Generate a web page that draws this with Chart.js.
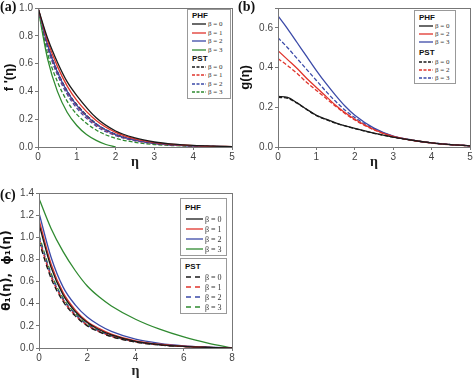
<!DOCTYPE html>
<html>
<head>
<meta charset="utf-8">
<script src="https://cdn.jsdelivr.net/npm/chart.js@4.4.0/dist/chart.umd.min.js"></script>
<style>
  body { margin: 0; background: #fff; }
  #wrap { position: relative; width: 474px; height: 381px; overflow: hidden; }
  .panel { position: absolute; }
  .tag { position: absolute; font: bold 14px 'Liberation Serif', serif; color: #111; }
  .leg { position: absolute; border: 1px solid #999; background: #fff; box-sizing: border-box; }
  .leg .hd { font: bold 8px 'Liberation Sans', sans-serif; color: #111; padding-left: 4px; display: flex; align-items: center; }
  .leg .row { display: flex; align-items: center; }
  .leg .row span { font: 7px 'Liberation Serif', serif; color: #333; margin-left: 2px; white-space: nowrap; }
</style>
</head>
<body>
<div id="wrap">
  <div class="panel" style="left:0;top:0"><canvas id="chartA" width="240" height="180"></canvas></div>
  <div class="panel" style="left:237px;top:0"><canvas id="chartB" width="237" height="180"></canvas></div>
  <div class="panel" style="left:0;top:185px"><canvas id="chartC" width="300" height="196"></canvas></div>
  <div class="tag" style="left:0;top:-1px">(a)</div>
  <div class="tag" style="left:238px;top:-1px">(b)</div>
  <div class="tag" style="left:0;top:187px">(c)</div>
</div>
<script>
// couleurs des courbes
const corPreto = '#1a1a1a';
const corVermelho = '#e0342c';
const corAzul = '#3b4aa8';
const corVerde = '#2f8a30';

// (a) f'(eta)
const etaA = [0, 0.25, 0.5, 0.75, 1, 1.5, 2, 2.5, 3, 3.5, 4, 4.5, 5];
const etaA3 = [0, 0.25, 0.5, 0.75, 1, 1.25, 1.5, 1.75, 2];
const fPhf0 = [1, 0.78, 0.61, 0.47, 0.37, 0.21, 0.115, 0.065, 0.036, 0.02, 0.011, 0.006, 0.003];
const fPhf1 = [1, 0.76, 0.58, 0.44, 0.335, 0.19, 0.105, 0.058, 0.032, 0.018, 0.01, 0.005, 0.003];
const fPhf2 = [1, 0.73, 0.54, 0.40, 0.30, 0.165, 0.09, 0.05, 0.028, 0.015, 0.008, 0.004, 0.002];
const fPhf3 = [1, 0.63, 0.40, 0.25, 0.155, 0.09, 0.048, 0.018, 0];
const fPst0 = [1, 0.735, 0.545, 0.405, 0.305, 0.168, 0.092, 0.051, 0.028, 0.015, 0.008, 0.004, 0.002];
const fPst1 = [1, 0.725, 0.535, 0.395, 0.295, 0.16, 0.088, 0.048, 0.026, 0.014, 0.008, 0.004, 0.002];
const fPst2 = [1, 0.71, 0.52, 0.38, 0.28, 0.15, 0.082, 0.045, 0.024, 0.013, 0.007, 0.004, 0.002];
const fPst3 = [1, 0.67, 0.47, 0.33, 0.235, 0.122, 0.063, 0.034, 0.018, 0.01, 0.005, 0.003, 0.001];

// (b) g(eta)
const etaB = [0, 0.25, 0.5, 0.75, 1, 1.25, 1.5, 1.75, 2, 2.5, 3, 3.5, 4, 4.5, 5];
const gPhf0 = [0.255, 0.25, 0.222, 0.19, 0.16, 0.14, 0.122, 0.107, 0.094, 0.07, 0.05, 0.034, 0.021, 0.012, 0.006];
const gPhf2 = [0.485, 0.44, 0.395, 0.345, 0.30, 0.255, 0.21, 0.172, 0.14, 0.088, 0.053, 0.034, 0.021, 0.012, 0.006];
const gPhf3 = [0.66, 0.595, 0.525, 0.455, 0.385, 0.32, 0.26, 0.205, 0.16, 0.095, 0.055, 0.035, 0.021, 0.012, 0.006];
const gPst0 = [0.25, 0.245, 0.22, 0.188, 0.158, 0.138, 0.12, 0.106, 0.093, 0.069, 0.05, 0.034, 0.021, 0.012, 0.006];
const gPst2 = [0.445, 0.41, 0.37, 0.325, 0.285, 0.245, 0.205, 0.168, 0.136, 0.086, 0.052, 0.033, 0.02, 0.011, 0.006];
const gPst3 = [0.55, 0.50, 0.445, 0.39, 0.335, 0.28, 0.23, 0.185, 0.148, 0.092, 0.054, 0.034, 0.021, 0.012, 0.006];

// (c) theta1, phi1
const etaC = [0, 0.5, 1, 1.5, 2, 2.5, 3, 4, 5, 6, 7, 8];
const tPhf0 = [1.12, 0.73, 0.48, 0.33, 0.23, 0.165, 0.118, 0.06, 0.031, 0.015, 0.006, 0];
const tPhf1 = [1.16, 0.76, 0.50, 0.345, 0.24, 0.175, 0.125, 0.065, 0.034, 0.016, 0.006, 0];
const tPhf2 = [1.22, 0.82, 0.55, 0.39, 0.28, 0.205, 0.15, 0.08, 0.042, 0.02, 0.008, 0];
const tPhf3 = [1.35, 1.08, 0.87, 0.70, 0.56, 0.46, 0.38, 0.26, 0.17, 0.10, 0.045, 0];
const tPst0 = [0.96, 0.63, 0.42, 0.29, 0.20, 0.145, 0.103, 0.053, 0.027, 0.013, 0.005, 0];
const tPst1 = [0.98, 0.645, 0.43, 0.297, 0.205, 0.148, 0.106, 0.055, 0.028, 0.013, 0.005, 0];
const tPst2 = [1.0, 0.66, 0.44, 0.305, 0.21, 0.152, 0.109, 0.057, 0.029, 0.014, 0.005, 0];
const tPst3 = [1.02, 0.675, 0.45, 0.312, 0.215, 0.156, 0.112, 0.058, 0.03, 0.014, 0.005, 0];

const rotulosBeta = ['\u03b2 = 0', '\u03b2 = 1', '\u03b2 = 2', '\u03b2 = 3'];
const rotulosBetaB = ['\u03b2 = 0', '\u03b2 = 2', '\u03b2 = 3'];

function serie(xs, ys, cor, tracejado) {
    return {
        data: xs.map((x, i) => ({ x: x, y: ys[i] })),
        borderColor: cor,
        borderWidth: 1.3,
        borderDash: tracejado || [],
        pointRadius: 0,
        cubicInterpolationMode: 'monotone',
        fill: false
    };
}

// moldura em volta da area do grafico
const moldura = {
    id: 'moldura',
    afterDraw(chart) {
        const { ctx, chartArea: a } = chart;
        ctx.save();
        ctx.strokeStyle = '#777';
        ctx.lineWidth = 1;
        ctx.strokeRect(Math.round(a.left) + 0.5, Math.round(a.top) + 0.5,
            Math.round(a.right - a.left), Math.round(a.bottom - a.top));
        ctx.restore();
    }
};

function criarGrafico(id, datasets, o) {
    return new Chart(document.getElementById(id).getContext('2d'), {
        type: 'line',
        data: { datasets: datasets },
        options: {
            responsive: false,
            animation: false,
            layout: { padding: o.pad },
            plugins: { legend: { display: false }, tooltip: { enabled: false } },
            scales: {
                x: {
                    type: 'linear', min: 0, max: o.xMax,
                    afterFit: s => { s.height = o.xH; },
                    ticks: { stepSize: o.xStep, padding: 1, color: '#444', font: { family: 'Liberation Sans', size: 10 } },
                    grid: { drawOnChartArea: false, tickLength: 3, color: '#777' },
                    border: { color: '#777' },
                    title: { display: true, text: '\u03b7', color: '#222', padding: o.xTitlePad,
                        font: { family: 'Liberation Serif', size: 14, weight: 'bold' } }
                },
                y: {
                    type: 'linear', min: 0, max: o.yMax,
                    afterFit: s => { s.width = o.yW; },
                    ticks: { stepSize: o.yStep, padding: 2, color: '#444', font: { family: 'Liberation Sans', size: 10 },
                        callback: v => (o.yHide !== undefined && Math.abs(v - o.yHide) < 1e-6) ? '' : v.toFixed(1) },
                    grid: { drawOnChartArea: false, tickLength: 3, color: '#777' },
                    border: { color: '#777' },
                    title: { display: true, text: o.yTitle, color: '#111', padding: o.yTitlePad,
                        font: { family: o.yTitleFamily || 'Liberation Sans', size: o.yTitleSize || 13, weight: 'bold' } }
                }
            }
        },
        plugins: [moldura]
    });
}

const tr = [4, 2];
criarGrafico('chartA', [
    serie(etaA, fPhf0, corPreto), serie(etaA, fPhf1, corVermelho),
    serie(etaA, fPhf2, corAzul), serie(etaA3, fPhf3, corVerde),
    serie(etaA, fPst0, corPreto, tr), serie(etaA, fPst1, corVermelho, tr),
    serie(etaA, fPst2, corAzul, tr), serie(etaA, fPst3, corVerde, tr)
], { pad: { left: 0, right: 8, top: 4, bottom: 5 }, xMax: 5, xStep: 1, yMax: 1, yStep: 0.2,
     yW: 38, xH: 28, yTitle: "f '(\u03b7)", yTitlePad: { top: 2, bottom: 2 }, xTitlePad: { top: 2, bottom: 4 } });

criarGrafico('chartB', [
    serie(etaB, gPhf0, corPreto), serie(etaB, gPhf2, corVermelho), serie(etaB, gPhf3, corAzul),
    serie(etaB, gPst0, corPreto, tr), serie(etaB, gPst2, corVermelho, tr), serie(etaB, gPst3, corAzul, tr)
], { pad: { left: 0, right: 4, top: 3, bottom: 5 }, xMax: 5, xStep: 1, yMax: 0.7, yStep: 0.2, yHide: 0.7,
     yW: 41, xH: 28, yTitle: 'g(\u03b7)', yTitlePad: { top: 1, bottom: 2 }, xTitlePad: { top: 2, bottom: 4 } });

const trC = [5, 3];
criarGrafico('chartC', [
    serie(etaC, tPhf0, corPreto), serie(etaC, tPhf1, corVermelho),
    serie(etaC, tPhf2, corAzul), serie(etaC, tPhf3, corVerde),
    serie(etaC, tPst0, corPreto, trC), serie(etaC, tPst1, corVermelho, trC),
    serie(etaC, tPst2, corAzul, trC), serie(etaC, tPst3, corVerde, trC)
], { pad: { left: 0, right: 68, top: 8, bottom: 0 }, xMax: 8, xStep: 2, yMax: 1.4, yStep: 0.2,
     yW: 39, xH: 33, yTitle: '\u03b8\u2081(\u03b7),  \u03d5\u2081(\u03b7)', yTitleFamily: "'DejaVu Sans', sans-serif", yTitleSize: 12,
     yTitlePad: { top: 0, bottom: 2 }, xTitlePad: { top: 2, bottom: 1 } });

// legendas em caixa (PHF / PST)
function linhaAmostra(cor, dash, comp) {
    const d = dash ? ` stroke-dasharray="${dash.join(',')}"` : '';
    return `<svg width="${comp}" height="4"><line x1="0" y1="2" x2="${comp}" y2="2" stroke="${cor}" stroke-width="1.3"${d}/></svg>`;
}

function criarLegenda(pos, grupos) {
    const caixa = document.createElement('div');
    caixa.className = 'leg';
    caixa.style.left = pos.left + 'px';
    caixa.style.top = pos.top + 'px';
    caixa.style.width = pos.width + 'px';
    caixa.style.paddingTop = (pos.padTop || 0) + 'px';
    caixa.style.paddingBottom = (pos.padBottom || 0) + 'px';
    let html = '';
    grupos.forEach(g => {
        html += `<div class="hd" style="height:${g.hdH}px">${g.titulo}</div>`;
        g.itens.forEach(it => {
            html += `<div class="row" style="height:${g.rowH}px;padding-left:${pos.lineX}px">` +
                linhaAmostra(it.cor, it.dash, pos.lineLen) +
                `<span style="font-size:${pos.fs}px">${it.rotulo}</span></div>`;
        });
    });
    caixa.innerHTML = html;
    document.getElementById('wrap').appendChild(caixa);
}

const coresA = [corPreto, corVermelho, corAzul, corVerde];
const coresB = [corPreto, corVermelho, corAzul];

criarLegenda({ left: 187, top: 9, width: 44, padTop: 1, padBottom: 1, lineX: 4, lineLen: 14, fs: 7 }, [
    { titulo: 'PHF', hdH: 9, rowH: 8.5, itens: rotulosBeta.map((r, i) => ({ rotulo: r, cor: coresA[i] })) },
    { titulo: 'PST', hdH: 8.5, rowH: 8.5, itens: rotulosBeta.map((r, i) => ({ rotulo: r, cor: coresA[i], dash: [3, 1.5] })) }
]);

criarLegenda({ left: 414, top: 10, width: 42, padTop: 1, padBottom: 1, lineX: 4, lineLen: 14, fs: 7 }, [
    { titulo: 'PHF', hdH: 10, rowH: 8, itens: rotulosBetaB.map((r, i) => ({ rotulo: r, cor: coresB[i] })) },
    { titulo: 'PST', hdH: 12, rowH: 8, itens: rotulosBetaB.map((r, i) => ({ rotulo: r, cor: coresB[i], dash: [3, 1.5] })) }
]);

criarLegenda({ left: 180, top: 198, width: 47, padTop: 2, padBottom: 1, lineX: 5, lineLen: 17, fs: 8 }, [
    { titulo: 'PHF', hdH: 13, rowH: 10, itens: rotulosBeta.map((r, i) => ({ rotulo: r, cor: coresA[i] })) }
]);

criarLegenda({ left: 180, top: 258, width: 47, padTop: 1, padBottom: 1, lineX: 5, lineLen: 17, fs: 8 }, [
    { titulo: 'PST', hdH: 12, rowH: 10, itens: rotulosBeta.map((r, i) => ({ rotulo: r, cor: coresA[i], dash: [5, 4] })) }
]);
</script>
</body>
</html>
